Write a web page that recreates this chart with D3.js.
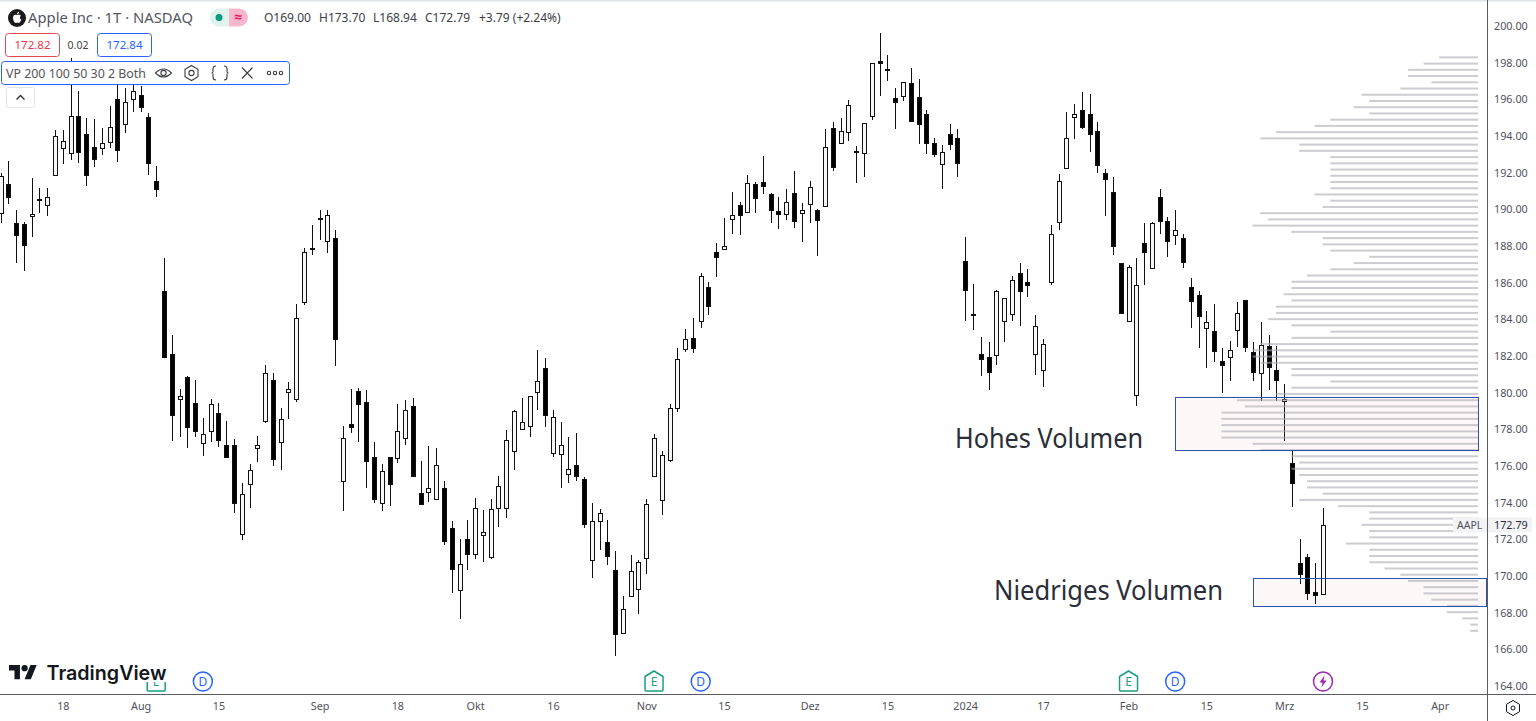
<!DOCTYPE html>
<html>
<head>
<meta charset="utf-8">
<title>Apple Inc 1T</title>
<style>
  html, body { margin: 0; padding: 0; background: #fff; }
  svg { display: block; }
  text { font-family: "Noto Sans", "Open Sans", sans-serif; }
  .axis text { fill: #4f525c; font-size: 10.8px; }
  .axis path.domain { display: none; }
</style>
</head>
<body>
<svg id="chart" width="1536" height="721"></svg>
<script src="https://d3js.org/d3.v7.min.js"></script>
<script>
// daily candles, Jul 2023 - Mar 2024
const opens = [
  189.81,191.39,189.26,189.18,189.63,190.50,190.23,191.87,193.32,193.05,
  195.10,194.12,193.41,193.32,193.67,196.02,194.63,196.05,196.23,195.05,
  191.56,185.53,182.13,179.65,180.84,179.46,177.27,177.91,178.87,177.13,
  177.13,172.27,175.04,177.00,178.48,180.68,177.33,180.04,179.68,184.90,
  187.82,189.45,188.28,188.41,175.15,178.31,180.08,179.47,176.49,173.95,
  176.47,176.46,177.49,179.26,174.51,174.58,174.16,174.78,172.61,169.27,
  172.01,171.18,172.21,171.00,173.73,173.73,176.78,178.02,178.15,180.04,
  181.37,176.73,176.62,175.53,176.04,175.27,170.85,173.02,171.85,170.32,
  166.88,168.92,169.28,170.96,175.49,174.18,176.35,179.13,182.37,182.97,
  183.91,185.79,187.68,187.83,189.50,190.25,189.85,191.39,191.50,190.85,
  189.92,189.74,190.90,189.78,190.28,189.97,190.17,194.43,193.60,194.21,
  193.19,193.05,195.05,198.09,197.57,196.07,196.16,196.89,196.12,195.20,
  193.61,192.47,194.10,193.90,187.16,184.24,182.13,181.97,182.06,183.86,
  184.30,186.55,186.06,182.11,181.26,186.03,189.32,192.29,195.02,195.42,
  195.21,194.29,191.99,190.96,187.06,183.95,179.84,188.14,186.84,190.65,
  189.37,188.59,188.41,185.74,185.30,183.53,183.39,181.75,181.91,183.44,
  185.03,182.24,181.07,182.52,181.26,179.51,176.14,170.70,171.03,169.12,
  169.00];
const closes = [
  191.83,190.67,188.59,188.05,189.75,190.56,190.68,194.00,193.72,195.09,
  193.11,191.90,192.74,193.61,194.49,193.22,195.85,196.47,195.56,192.56,
  191.14,181.95,178.80,179.80,178.13,177.91,177.77,179.40,177.38,176.49,
  173.95,174.45,175.80,177.17,181.10,176.35,178.58,180.18,184.10,187.65,
  187.87,189.51,189.70,182.90,177.51,178.13,179.35,176.25,174.18,175.71,
  175.00,177.93,179.04,175.42,173.89,174.78,176.04,171.89,170.36,170.67,
  171.18,173.70,172.39,173.63,174.91,177.44,178.98,178.38,179.80,180.66,
  178.80,178.69,177.13,175.82,175.44,172.81,172.98,173.43,171.07,166.83,
  168.19,170.27,170.76,173.91,177.55,176.62,179.19,181.81,182.91,182.42,
  186.39,184.77,187.39,188.01,189.70,189.68,191.45,190.61,191.27,189.96,
  189.74,190.41,189.36,189.94,191.23,189.41,193.40,192.30,194.25,195.69,
  193.12,194.71,197.96,198.00,197.63,195.87,196.93,194.80,194.63,193.60,
  193.00,193.12,193.54,192.51,185.59,184.29,181.84,181.13,185.57,185.14,
  186.17,185.55,185.88,183.61,182.68,188.63,191.56,193.90,195.20,194.47,
  194.14,192.41,191.69,188.01,184.35,186.88,185.85,187.66,189.28,189.36,
  188.26,188.85,187.12,185.00,184.13,183.83,182.28,181.51,182.30,184.37,
  182.49,181.13,182.62,181.35,180.69,179.64,175.04,170.09,169.06,168.94,
  172.79];
const highs = [
  192.00,192.65,189.96,189.32,191.72,191.17,191.17,194.32,194.32,198.25,
  196.47,194.99,194.94,194.45,195.63,196.83,196.62,196.83,196.73,195.23,
  192.37,187.37,183.13,180.22,180.89,180.71,178.60,179.68,179.46,178.48,
  177.46,175.07,176.09,177.66,181.53,181.10,179.15,180.57,184.86,187.87,
  189.12,189.96,189.99,188.86,178.16,180.22,180.28,180.13,177.29,176.09,
  176.47,179.37,179.62,179.69,176.25,177.07,176.98,175.18,172.99,172.03,
  173.07,174.25,173.62,174.20,175.45,177.96,179.04,179.69,179.82,182.31,
  181.91,179.04,178.40,177.56,177.82,175.40,173.98,173.65,173.07,171.36,
  168.92,171.16,170.85,174.20,177.77,176.80,179.40,182.41,183.46,184.10,
  186.55,186.01,188.14,189.50,190.96,190.38,191.88,191.50,192.92,190.90,
  190.68,191.09,192.10,190.32,191.56,190.01,194.39,194.76,194.99,195.96,
  193.47,194.72,197.98,199.60,198.42,196.62,196.94,197.72,197.09,195.42,
  193.90,193.52,194.67,194.39,188.47,185.90,183.06,182.75,185.59,185.15,
  186.39,187.05,186.72,184.26,182.90,189.12,191.94,195.31,195.76,196.40,
  196.30,194.76,192.21,191.77,187.08,186.94,187.32,189.23,189.30,191.09,
  189.56,189.97,188.68,186.23,185.52,184.48,184.86,182.41,182.84,184.92,
  185.04,182.75,183.86,183.12,182.57,180.50,176.85,172.03,171.22,170.70,
  173.70];
const lows = [
  189.25,190.28,187.06,186.63,188.48,189.78,189.63,191.87,192.45,192.67,
  192.51,191.25,192.29,192.94,193.32,192.56,194.14,195.29,195.29,191.87,
  190.70,181.95,177.36,177.58,177.00,177.58,176.54,177.31,177.03,176.49,
  173.43,171.94,173.73,176.22,178.34,176.00,175.80,178.56,179.49,184.77,
  187.50,188.32,187.62,181.44,173.54,177.80,177.31,174.82,173.98,173.54,
  173.84,176.16,177.14,175.42,173.85,174.03,174.16,171.67,169.05,167.63,
  170.34,170.94,170.78,170.94,172.69,173.16,175.78,177.98,177.58,179.04,
  178.13,176.49,174.80,175.07,175.18,172.63,169.91,171.43,170.59,165.66,
  166.81,168.88,167.90,170.12,175.49,173.34,176.22,178.95,182.20,182.15,
  183.53,184.22,186.30,187.83,188.65,188.59,189.85,189.78,190.81,189.23,
  188.90,189.41,188.96,188.21,189.23,187.44,190.17,192.10,193.60,193.71,
  191.41,191.74,194.87,196.20,197.01,194.39,195.92,194.80,193.54,193.00,
  192.83,191.09,193.23,191.76,183.91,183.41,180.91,180.15,181.49,182.75,
  183.90,183.62,185.22,180.95,180.31,185.88,188.85,192.29,193.85,194.36,
  193.14,191.96,189.63,187.50,184.35,183.88,179.27,185.86,186.81,188.63,
  187.39,188.05,186.79,183.51,182.44,181.33,181.67,179.97,180.62,182.48,
  182.22,180.62,179.55,180.13,179.55,177.36,173.76,169.58,168.67,168.49,
  168.94];

// volume profile rows, top to bottom
const vpTopPrice = 198.29;
const vpRowStep = 0.34;
const vpVolumes = [
  5,7,9,9,6,10,15,14,16,14,19,21,26,28,23,23,19,19,19,19,
  19,19,21,19,20,28,27,29,24,20,20,19,14,16,19,22,24,24,25,24,
  26,26,27,24,19,24,28,29,29,28,24,24,19,24,26,31,30,33,33,33,
  33,33,29,28,24,23,24,23,22,22,20,23,18,14,14,15,14,14,17,14,
  14,14,12,10,9,7,7,6,4,4,2,1,1];

const tickBars = [8,18,28,41,51,61,71,83,93,104,114,124,134,145,155,165,175,185];
const tickLabels = ["18","Aug","15","Sep","18","Okt","16","Nov","15","Dez","15","2024","17","Feb","15","Mrz","15","Apr"];
const priceTicks = [164,166,168,170,172,174,176,178,180,182,184,186,188,190,192,194,196,198,200];

const eventBars = [20,26,84,90,145,151,170];
const eventKinds = ["E","D","E","D","E","D","S"];

const zoneBars = [[151,190],[161,191]];
const zonePrices = [[179.77,176.9],[169.9,168.37]];
const notes = ["Hohes Volumen","Niedriges Volumen"];

const ohlcLabels = ["O169.00","H173.70","L168.94","C172.79","+3.79 (+2.24%)"];
const ohlcX = [264,319,373,425,479];

const svg = d3.select("#chart");

const x = d3.scaleLinear().domain([0, 170]).range([0.6, 1323]);
const y = d3.scaleLinear().domain([200, 164]).range([26, 686]);
const vpX = d3.scaleLinear().domain([0, 33]).range([1478, 1221.5]);

const crisp = v => Math.round(v) + 0.5;

// top hairline
svg.append("rect").attr("width", 1536).attr("height", 1.5).attr("fill", "#e0e3eb");

// zones, fill goes under the candles
function drawZones(fill, stroke) {
  svg.append("g")
    .selectAll("rect")
    .data(zoneBars)
    .join("rect")
    .attr("x", d => crisp(x(d[0])))
    .attr("width", d => Math.round(x(d[1]) - x(d[0])))
    .attr("y", (d, i) => crisp(y(zonePrices[i][0])))
    .attr("height", (d, i) => Math.round(y(zonePrices[i][1]) - y(zonePrices[i][0])))
    .attr("fill", fill)
    .attr("stroke", stroke);
}
drawZones("#fef7f7", "none");

// candles
const bars = d3.range(opens.length);

const candleG = svg.append("g");
candleG.selectAll("line")
  .data(bars)
  .join("line")
  .attr("x1", i => crisp(x(i)))
  .attr("x2", i => crisp(x(i)))
  .attr("y1", i => Math.round(y(highs[i])))
  .attr("y2", i => Math.round(y(lows[i])))
  .attr("stroke", "#111")
  .attr("stroke-width", 1);

candleG.selectAll("rect")
  .data(bars)
  .join("rect")
  .attr("x", i => crisp(x(i)) - 2)
  .attr("width", 4)
  .attr("y", i => crisp(y(Math.max(opens[i], closes[i]))))
  .attr("height", i => Math.max(1, Math.round(Math.abs(y(opens[i]) - y(closes[i])))))
  .attr("fill", i => closes[i] >= opens[i] ? "#f7f7f7" : "#000")
  .attr("stroke", "#111")
  .attr("stroke-width", 1);

// volume profile goes over the candles
svg.append("g")
  .selectAll("rect")
  .data(vpVolumes)
  .join("rect")
  .attr("x", d => vpX(d))
  .attr("width", d => vpX(0) - vpX(d))
  .attr("y", (d, i) => y(vpTopPrice - i * vpRowStep) - 1)
  .attr("height", 2)
  .attr("fill", "rgba(170,170,180,0.6)");

// zone outlines
drawZones("none", "#2d52a8");

// notes
svg.selectAll("text.note")
  .data(notes)
  .join("text")
  .attr("class", "note")
  .attr("x", (d, i) => [955, 994][i])
  .attr("y", (d, i) => [448, 600][i])
  .attr("textLength", (d, i) => [188, 229][i])
  .attr("lengthAdjust", "spacingAndGlyphs")
  .attr("fill", "#2a2e39")
  .style("font-size", "27px")
  .text(d => d);

// axes
const xAxis = d3.axisBottom(x)
  .tickValues(tickBars)
  .tickFormat((d, i) => tickLabels[i])
  .tickSize(0)
  .tickPadding(8);
svg.append("g")
  .attr("class", "axis")
  .attr("transform", "translate(0,694)")
  .call(xAxis);

const yAxis = d3.axisRight(y)
  .tickValues(priceTicks)
  .tickFormat(d3.format(".2f"))
  .tickSize(0)
  .tickPadding(7);
svg.append("g")
  .attr("class", "axis")
  .attr("transform", "translate(1487,0)")
  .call(yAxis);

svg.append("rect").attr("x", 0).attr("y", 694).attr("width", 1536).attr("height", 1).attr("fill", "#5a5c63");
svg.append("rect").attr("x", 1487).attr("y", 0).attr("width", 1).attr("height", 721).attr("fill", "#5a5c63");

// last price tag
const lastY = y(closes[closes.length - 1]);
svg.append("rect").attr("x", 1453).attr("y", lastY - 7.5).attr("width", 34).attr("height", 15).attr("fill", "#f3f3f5");
svg.append("rect").attr("x", 1488).attr("y", lastY - 7.5).attr("width", 44).attr("height", 15).attr("fill", "#f3f3f5");
svg.append("text").attr("x", 1457).attr("y", lastY + 4).attr("fill", "#4f525c").style("font-size", "10.5px").text("AAPL");
svg.append("text").attr("x", 1494).attr("y", lastY + 4).attr("fill", "#2a2e39").style("font-size", "10.8px").text("172.79");

// settings hexagon, bottom right
const hex = (cx, cy, r) => d3.line()(d3.range(6).map(k => [cx + r * Math.sin(k * Math.PI / 3), cy - r * Math.cos(k * Math.PI / 3)])) + "Z";
svg.append("path").attr("d", hex(1513, 708, 7.5)).attr("fill", "none").attr("stroke", "#131722");
svg.append("circle").attr("cx", 1513).attr("cy", 708).attr("r", 2).attr("fill", "none").attr("stroke", "#131722");

// event badges along the bottom
const eventG = svg.append("g").selectAll("g")
  .data(eventBars)
  .join("g")
  .attr("transform", d => `translate(${x(d)},681.5)`);

eventG.filter((d, i) => eventKinds[i] === "E")
  .call(g => {
    g.append("path")
      .attr("d", "M-9,-5 L0,-10.5 L9,-5 V8.5 Q9,9.5 8,9.5 H-8 Q-9,9.5 -9,8.5 Z")
      .attr("fill", "#fff").attr("stroke", "#1a9e85").attr("stroke-width", 1.5);
    g.append("text").attr("text-anchor", "middle").attr("y", 4.5)
      .attr("fill", "#1a9e85").style("font-size", "12px").text("E");
  });

eventG.filter((d, i) => eventKinds[i] === "D")
  .call(g => {
    g.append("circle").attr("r", 9.5).attr("fill", "#fff").attr("stroke", "#2962ff").attr("stroke-width", 1.5);
    g.append("text").attr("text-anchor", "middle").attr("y", 4.5)
      .attr("fill", "#2962ff").style("font-size", "12px").text("D");
  });

eventG.filter((d, i) => eventKinds[i] === "S")
  .call(g => {
    g.append("circle").attr("r", 9.5).attr("fill", "#fff").attr("stroke", "#9c27b0").attr("stroke-width", 1.5);
    g.append("path").attr("d", "M1.5,-6 L-3.5,1 H-0.5 L-1.5,6 L3.5,-1 H0.5 Z").attr("fill", "#9c27b0");
  });

// TradingView mark, its white plate hides the top of the first E badge
const logo = svg.append("g");
logo.append("rect").attr("x", 6).attr("y", 660).attr("width", 163).attr("height", 22).attr("fill", "#fff");
logo.append("path").attr("transform", "translate(9,662) scale(0.78)")
  .attr("d", "M14 22H7V11H0V4h14v18zM28 22h-8l7.5-18h8L28 22z").attr("fill", "#131722");
logo.append("circle").attr("cx", 24.6).attr("cy", 668.2).attr("r", 3.1).attr("fill", "#131722");
logo.append("text").attr("x", 46.5).attr("y", 680)
  .attr("textLength", 120).attr("lengthAdjust", "spacingAndGlyphs")
  .attr("fill", "#131722")
  .style("font-family", "Inter, sans-serif").style("font-weight", 600).style("font-size", "20px")
  .text("TradingView");

// header
svg.append("circle").attr("cx", 17).attr("cy", 18).attr("r", 9).attr("fill", "#1a1a1a");
svg.append("path").attr("d", "M17,15 C15,14 13,15 13,18 C13,21 15,23 16,23 C16.6,23 16.8,22.6 17.3,22.6 C17.8,22.6 18.2,23 18.8,23 C19.8,23 21,21 21.2,19.8 C19.6,19 19.6,16.4 21,15.8 C20,14.5 18.3,14.4 17,15 Z M17,14.3 C17,12.8 18,12 19,11.8 C19.1,13.1 18.2,14.2 17,14.3 Z").attr("fill", "#fff");

svg.append("text").attr("x", 28).attr("y", 23).attr("textLength", 165).attr("lengthAdjust", "spacingAndGlyphs")
  .attr("fill", "#55575f").style("font-size", "15px").text("Apple Inc · 1T · NASDAQ");

svg.append("path").attr("d", "M229,8.5 H219 a9,9 0 0 0 0,18 H229 Z").attr("fill", "#dff2ee");
svg.append("path").attr("d", "M229,8.5 H239 a9,9 0 0 1 0,18 H229 Z").attr("fill", "#f7b8ce");
svg.append("circle").attr("cx", 219).attr("cy", 17.5).attr("r", 3.5).attr("fill", "#089981");
svg.append("text").attr("x", 238).attr("y", 22).attr("text-anchor", "middle").attr("fill", "#e91e63")
  .style("font-size", "14px").style("font-weight", 700).text("≈");

svg.selectAll("text.ohlc")
  .data(ohlcLabels)
  .join("text")
  .attr("class", "ohlc")
  .attr("x", (d, i) => ohlcX[i])
  .attr("y", 22)
  .attr("fill", "#3c3e46")
  .style("font-size", "12px")
  .text(d => d);

// bid / ask
svg.append("rect").attr("x", 5.5).attr("y", 33.5).attr("width", 54).attr("height", 23).attr("rx", 3).attr("fill", "#fff").attr("stroke", "#e5484d");
svg.append("text").attr("x", 32.5).attr("y", 49).attr("text-anchor", "middle").attr("fill", "#f23645").style("font-size", "11.5px").text("172.82");
svg.append("text").attr("x", 78).attr("y", 49).attr("text-anchor", "middle").attr("fill", "#444").style("font-size", "10.5px").text("0.02");
svg.append("rect").attr("x", 97.5).attr("y", 33.5).attr("width", 54).attr("height", 23).attr("rx", 3).attr("fill", "#fff").attr("stroke", "#2962ff");
svg.append("text").attr("x", 124.5).attr("y", 49).attr("text-anchor", "middle").attr("fill", "#2962ff").style("font-size", "11.5px").text("172.84");

// indicator legend, sits on top of the candles
svg.append("rect").attr("x", 1.5).attr("y", 61.5).attr("width", 288).attr("height", 23).attr("rx", 3).attr("fill", "#fff").attr("stroke", "#2962ff");
svg.append("text").attr("x", 6).attr("y", 77.5).attr("textLength", 140).attr("lengthAdjust", "spacingAndGlyphs")
  .attr("fill", "#555").style("font-size", "12px").text("VP 200 100 50 30 2 Both");

const legendIcons = svg.append("g").attr("fill", "none").attr("stroke", "#3c3e46").attr("stroke-width", 1.1);
legendIcons.append("path").attr("d", "M155.5,73 Q163.5,65 171.5,73 Q163.5,81 155.5,73 Z");
legendIcons.append("circle").attr("cx", 163.5).attr("cy", 73).attr("r", 2.6);
legendIcons.append("path").attr("d", hex(191.5, 73, 7.5));
legendIcons.append("circle").attr("cx", 191.5).attr("cy", 73).attr("r", 2.6);
legendIcons.append("path").attr("d", "M216,66 Q213,66 213,69 V71.5 Q213,73 211.5,73 Q213,73 213,74.5 V77 Q213,80 216,80 M224,66 Q227,66 227,69 V71.5 Q227,73 228.5,73 Q227,73 227,74.5 V77 Q227,80 224,80");
legendIcons.append("path").attr("d", "M242,67.5 L252.5,78.5 M252.5,67.5 L242,78.5");
legendIcons.append("g").selectAll("circle")
  .data([269, 275, 281])
  .join("circle")
  .attr("cx", d => d).attr("cy", 73).attr("r", 1.7);

// collapse button
svg.append("rect").attr("x", 6.5).attr("y", 87.5).attr("width", 28).attr("height", 20).attr("rx", 2).attr("fill", "#fff").attr("stroke", "#e0e3eb");
svg.append("path").attr("d", "M16.5,99.5 L20.5,95.5 L24.5,99.5").attr("fill", "none").attr("stroke", "#2a2e39").attr("stroke-width", 1.3);
</script>
</body>
</html>
